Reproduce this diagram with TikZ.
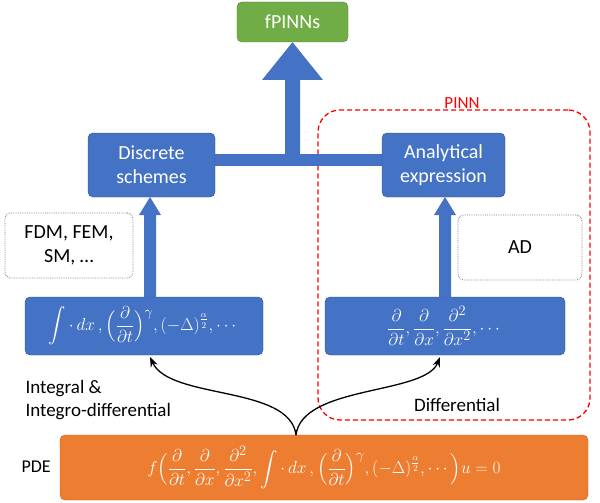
\documentclass[tikz,border=0pt]{standalone}
\usepackage{amsmath}
\usepackage{fontspec}
\setmainfont{Carlito}
\usetikzlibrary{arrows.meta}
\definecolor{bl}{HTML}{4472C4}
\definecolor{gr}{HTML}{70AD47}
\definecolor{og}{HTML}{ED7D31}
\begin{document}
\begin{tikzpicture}[x=1pt,y=-1pt,
  box/.style={draw=bl!70!black,fill=bl,rounded corners=5pt,text=white,align=center,font=\fontsize{20}{24}\selectfont,inner sep=0pt},
  dbox/.style={draw=gray,densely dotted,thick,rounded corners=6pt,align=center,font=\fontsize{20}{24}\selectfont,inner sep=0pt},
  fat/.style={draw=none,fill=bl}]
\useasboundingbox (0,0) rectangle (600,503);
\node[box,fill=gr,draw=gr!70!black,minimum width=111pt,minimum height=40pt] (f) at (292.5,22) {fPINNs};
\node[box,minimum width=127pt,minimum height=64pt] (ds) at (151.5,165) {Discrete\\schemes};
\node[box,minimum width=123pt,minimum height=64pt] (ae) at (443.5,165) {Analytical\\expression};
\node[dbox,minimum width=128pt,minimum height=65pt] (d1) at (69,245.5) {FDM, FEM,\\SM, …};
\node[dbox,minimum width=124pt,minimum height=65pt] (d2) at (520,247.5) {AD};
\node[box,minimum width=238pt,minimum height=58pt,font=\fontsize{19}{22}\selectfont] (l) at (144,326)
 {$\displaystyle\int\cdot\,dx\,,\Big(\frac{\partial}{\partial t}\Big)^{\gamma},(-\Delta)^{\frac{\alpha}{2}},\cdots$};
\node[box,minimum width=240pt,minimum height=58pt,font=\fontsize{19}{22}\selectfont] (r) at (445,326)
 {$\displaystyle\frac{\partial}{\partial t},\frac{\partial}{\partial x},\frac{\partial^2}{\partial x^2},\cdots$};
\node[box,fill=og,draw=og!80!black,minimum width=528pt,minimum height=65pt,font=\fontsize{19}{22}\selectfont] (p) at (324,467.5)
 {$\displaystyle f\Big(\frac{\partial}{\partial t},\frac{\partial}{\partial x},\frac{\partial^2}{\partial x^2},\int\cdot\,dx\,,\Big(\frac{\partial}{\partial t}\Big)^{\gamma},(-\Delta)^{\frac{\alpha}{2}},\cdots\Big)u=0$};
\node[font=\fontsize{18}{22}\selectfont,anchor=west] (pde) at (18,467) {PDE};
% red dashed
\node[draw=red,dash pattern=on 5pt off 3pt,line width=1.3pt,rounded corners=22pt,minimum width=272pt,minimum height=310pt] (pinn) at (454,265) {};
\node[text=red,font=\fontsize{17}{20}\selectfont] (pl) at (462,103) {PINN};
% fat arrows
\fill[bl] (ds.east|-0,154) rectangle (ae.west|-0,166);
\fill[bl] (285,160) -- (285,80) -- (262,80) -- (f.south) -- (323,80) -- (300,80) -- (300,160) -- cycle;
\fill[bl] (144,297) -- (144,215) -- (139,215) -- (150,197) -- (161,215) -- (156,215) -- (156,297) -- cycle;
\fill[bl] (439,297) -- (439,215) -- (434,215) -- (445,197) -- (456,215) -- (451,215) -- (451,297) -- cycle;
% curved arrows
\coordinate (s) at (296,435);
\draw[line width=1.3pt,-{Stealth[length=10pt]}] (s) .. controls (290,385) and (170,400) .. (150,357);
\draw[line width=1.3pt,-{Stealth[length=10pt]}] (s) .. controls (302,385) and (425,395) .. (440,357);
\node[font=\fontsize{19}{23}\selectfont,align=left,anchor=west] (il) at (22,400) {Integral \&\\Integro-differential};
\node[font=\fontsize{19}{23}\selectfont] (dl) at (457,405) {Differential};
\end{tikzpicture}
\end{document}
